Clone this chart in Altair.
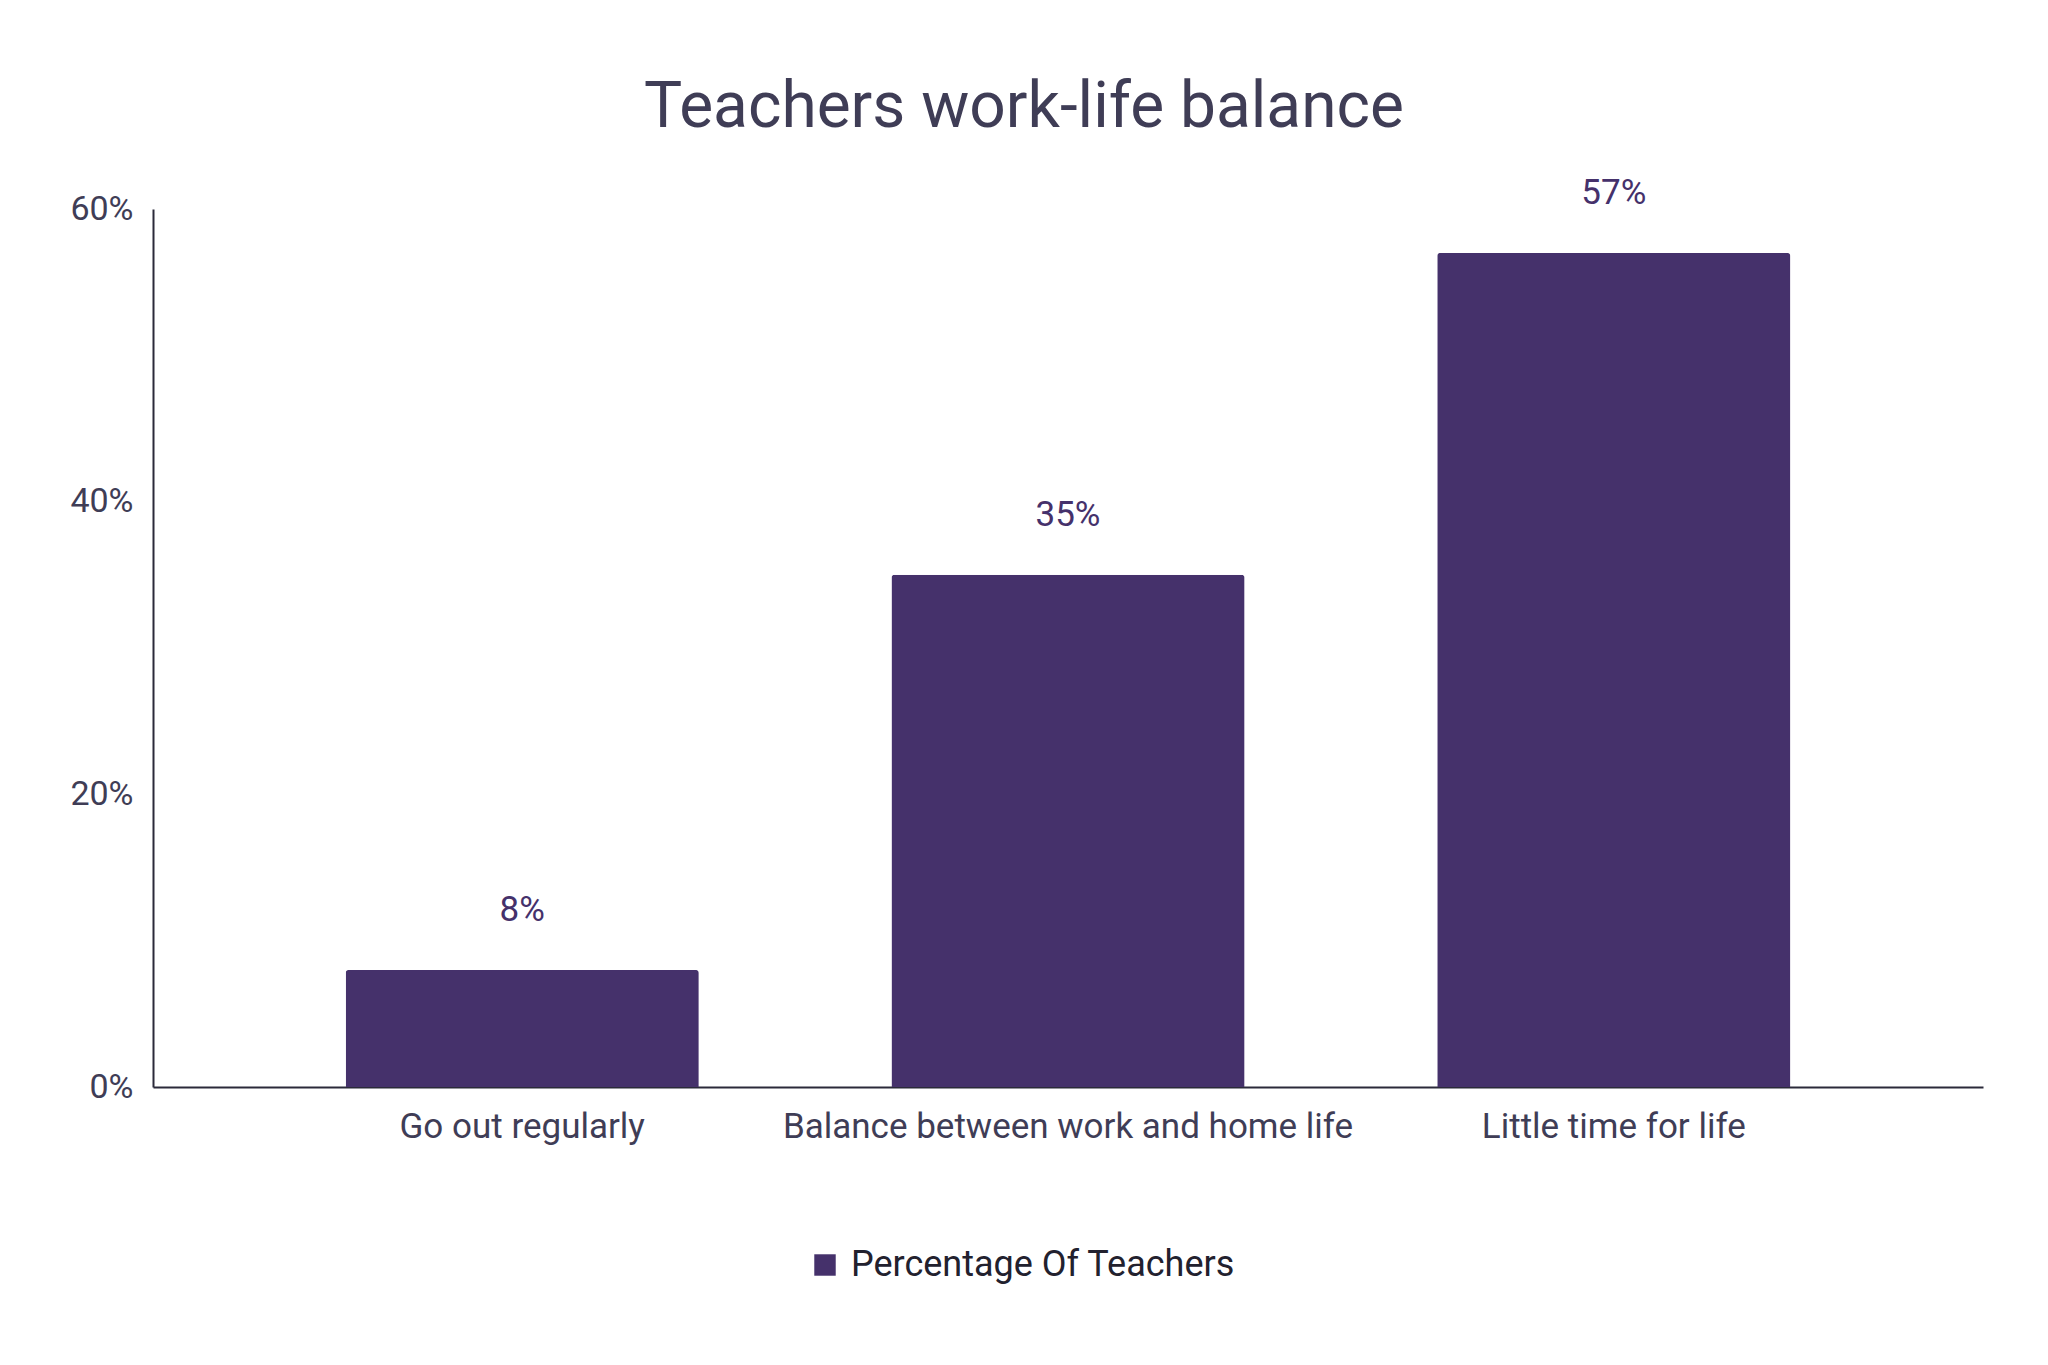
import altair as alt
import pandas as pd

categories = ["Go out regularly", "Balance between work and home life", "Little time for life"]
values = [8, 35, 57]
series_name = "Percentage Of Teachers"
y_ticks = [0, 20, 40, 60]

df = pd.DataFrame({"category": categories, "value": values,
                   "series": [series_name] * len(categories)})
df["label"] = df["value"].astype(str) + "%"

BAR = "#45316b"
TXT = "#3f3d56"

base = alt.Chart(df).encode(
    x=alt.X("category:N", sort=categories,
            scale=alt.Scale(paddingInner=0.353, paddingOuter=0.353),
            axis=alt.Axis(title=None, labelAngle=0, labelFontSize=35, labelColor=TXT,
                          labelFont="Roboto", ticks=False, labelPadding=22, labelLimit=0,
                          domainColor="#2b2a3a", domainWidth=2)),
)

bars = base.mark_bar(cornerRadiusTopLeft=3, cornerRadiusTopRight=3).encode(
    y=alt.Y("value:Q", scale=alt.Scale(domain=[0, 60], nice=False),
            axis=alt.Axis(title=None, values=y_ticks, labelExpr="datum.value + '%'",
                          grid=False, ticks=False, labelFontSize=34, labelColor=TXT,
                          labelFont="Roboto", labelPadding=20, labelLimit=0,
                          domainColor="#2b2a3a", domainWidth=2)),
    color=alt.Color("series:N", scale=alt.Scale(range=[BAR]),
                    legend=alt.Legend(title=None, orient="none", legendX=654, legendY=1038,
                                      labelFontSize=36, labelColor="#22212e", labelFont="Roboto",
                                      symbolType="square", symbolSize=460, symbolStrokeWidth=0,
                                      labelOffset=8, labelLimit=0)),
)

labels = base.mark_text(fontSize=35, font="Roboto", color=BAR, dy=-60, baseline="middle").encode(
    y=alt.Y("value:Q"),
    text="label:N",
)

chart = (bars + labels).properties(
    width=1830, height=878,
    autosize=alt.AutoSizeParams(type="none"),
    padding={"left": 145, "top": 201, "right": 57, "bottom": 260},
    title=alt.TitleParams("Teachers work-life balance", fontSize=64, font="Roboto",
                          fontWeight="normal", color=TXT, anchor="middle", dx=-44, offset=36),
).configure(background="white").configure_view(strokeWidth=0, stroke=None)

chart.save("out.html", embed_options={"renderer": "svg", "actions": False})
